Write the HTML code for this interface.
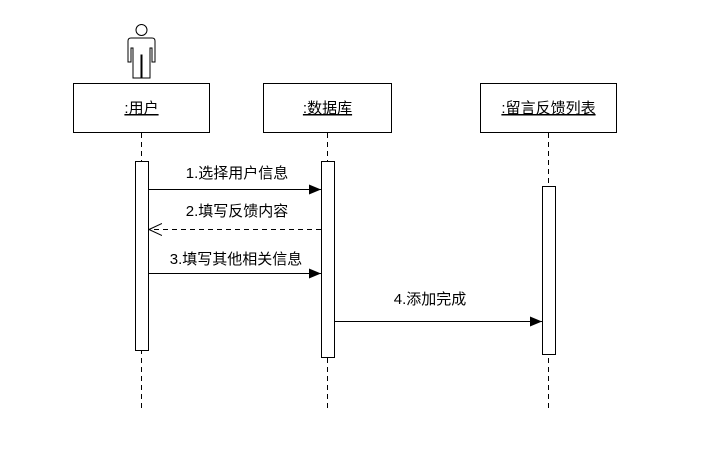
<!DOCTYPE html>
<html><head><meta charset="utf-8"><style>
html,body{margin:0;padding:0;background:#fff;}
svg text{font-family:"Liberation Sans","Noto Sans CJK SC",sans-serif;font-size:15px;fill:#000;}
</style></head><body>
<svg width="721" height="464" viewBox="0 0 721 464" xmlns="http://www.w3.org/2000/svg">
<defs>
<marker id="f" markerWidth="12" markerHeight="10" refX="12" refY="5" orient="auto" markerUnits="userSpaceOnUse"><path d="M0,0 L12,5 L0,10 Z" fill="#000"/></marker>
<marker id="o" markerWidth="14" markerHeight="14" refX="13" refY="7" orient="auto" markerUnits="userSpaceOnUse"><path d="M0,1 L13,7 L0,13" fill="none" stroke="#000"/></marker>
</defs>
<g stroke="#000" stroke-dasharray="5,4" fill="none">
<line x1="141.5" y1="133" x2="141.5" y2="410"/>
<line x1="327.5" y1="133" x2="327.5" y2="410"/>
<line x1="548.5" y1="133" x2="548.5" y2="410"/>
</g>
<g stroke="#000" fill="#fff" stroke-width="1">
<circle cx="141.5" cy="30" r="5.5"/>
<path d="M131,38 H152 Q155,38 155,41 V62 H152 V48 H150 V78 H142 V55 H141 V78 H133 V48 H131 V62 H128 V41 Q128,38 131,38 Z"/>
</g>
<g fill="#fff" stroke="#000">
<rect x="73.5" y="83.5" width="136" height="49"/>
<rect x="263.5" y="83.5" width="128" height="49"/>
<rect x="480.5" y="83.5" width="136" height="49"/>
<rect x="135.5" y="161.5" width="13" height="189"/>
<rect x="321.5" y="161.5" width="13" height="196"/>
<rect x="542.5" y="186.5" width="13" height="168"/>
</g>
<text x="141.5" y="113" text-anchor="middle" text-decoration="underline">:用户</text>
<text x="327.5" y="113" text-anchor="middle" text-decoration="underline">:数据库</text>
<text x="548.5" y="113" text-anchor="middle" text-decoration="underline">:留言反馈列表</text>
<g stroke="#000">
<line x1="148" y1="189.5" x2="321" y2="189.5" marker-end="url(#f)"/>
<line x1="321" y1="229.5" x2="149" y2="229.5" stroke-dasharray="5,4" marker-end="url(#o)"/>
<line x1="148" y1="273.5" x2="321" y2="273.5" marker-end="url(#f)"/>
<line x1="334" y1="321.5" x2="542" y2="321.5" marker-end="url(#f)"/>
</g>
<text x="237" y="178" text-anchor="middle">1.选择用户信息</text>
<text x="237" y="216" text-anchor="middle">2.填写反馈内容</text>
<text x="236" y="264" text-anchor="middle">3.填写其他相关信息</text>
<text x="430" y="304" text-anchor="middle">4.添加完成</text>
</svg>
</body></html>
